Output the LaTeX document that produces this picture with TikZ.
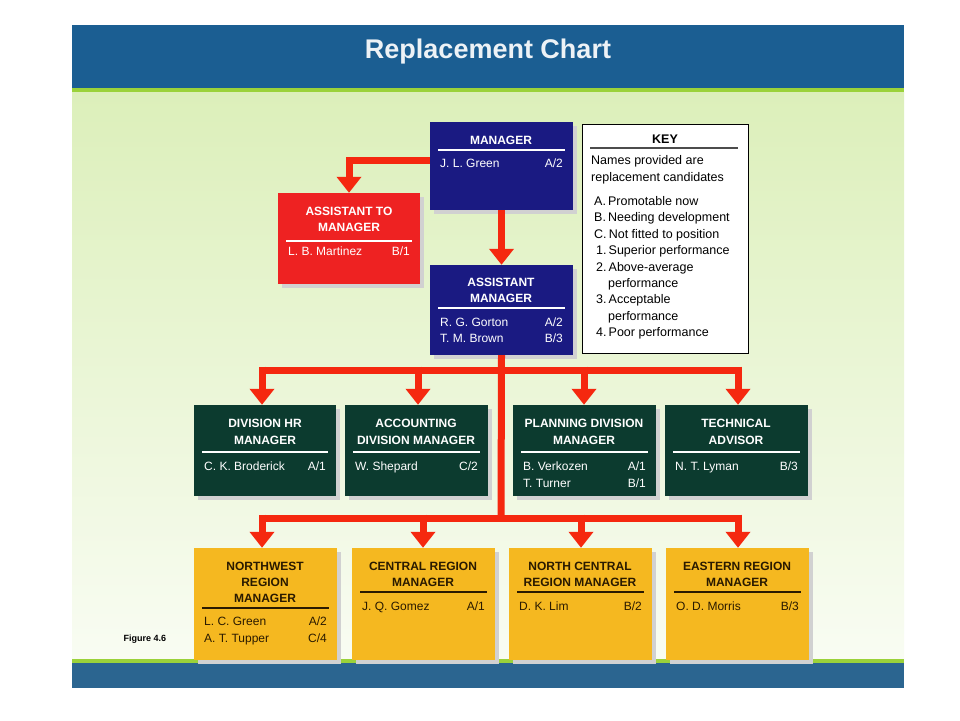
\documentclass[tikz,border=0pt]{standalone}
\usepackage{fontspec}
\setmainfont{Liberation Sans}
\usetikzlibrary{arrows.meta,fit}
\definecolor{hdr}{HTML}{1B5E92}
\definecolor{ftr}{HTML}{2B6590}
\definecolor{lgreen}{HTML}{9BD23A}
\definecolor{navy}{HTML}{1A1A82}
\definecolor{bred}{HTML}{EE2222}
\definecolor{dgreen}{HTML}{0C3B2F}
\definecolor{yel}{HTML}{F5B820}
\definecolor{ytxt}{HTML}{2A1A00}
\definecolor{arr}{HTML}{F5280F}
\tikzset{
 box/.style={draw=none,inner sep=0pt},
 shad/.style={fill=black!18},
 t/.style={font=\bfseries\fontsize{12}{13}\selectfont,inner sep=0pt},
 k/.style={font=\fontsize{12.5}{13}\selectfont,inner sep=0pt,anchor=base west},
 con/.style={draw=arr,line width=7pt,-{Triangle[width=24pt,length=16pt]}},
 bus/.style={draw=arr,line width=7pt},
}
% name, x1,y1,x2,y2, fill
\newcommand\ob[6]{%
 \fill[shad] (#2+4,#3+4) rectangle (#4+4,#5+4);
 \node[box,fill=#6,fit={(#2,#3)(#4,#5)}] (#1) {};}
\newcommand\ttl[4]{\node[t,text=#4,anchor=base] at (#1,#2) {#3};}
\newcommand\rw[6]{\node[t,text=#6,anchor=base west,font=\fontsize{12}{13}\selectfont] at ({#1+10},#3) {#4};
 \node[t,text=#6,anchor=base east,font=\fontsize{12}{13}\selectfont] at ({#2-10},#3) {#5};}
\newcommand\rl[4]{\draw[#4,line width=1.2pt] ({#1+8},#3) -- ({#2-8},#3);}
\begin{document}
\begin{tikzpicture}[x=1pt,y=-1pt]
\useasboundingbox (0,0) rectangle (960,720);
\fill[white] (0,0) rectangle (960,720);
\shade[top color=lgreen!35,bottom color=lgreen!6] (72,92) rectangle (904,663);
\fill[hdr] (72,25) rectangle (904,88);
\fill[lgreen] (72,88) rectangle (904,92);
\fill[lgreen] (72,659) rectangle (904,663);
\fill[ftr] (72,663) rectangle (904,688);
\node[font=\bfseries\fontsize{27}{30}\selectfont,text=white!92!hdr] (title) at (488,52) {Replacement Chart};
% boxes
\ob{m}{430}{122}{573}{210}{navy}
\ob{atm}{278}{193}{420}{284}{bred}
\ob{am}{430}{265}{573}{355}{navy}
\ob{d1}{194}{405}{336}{496}{dgreen}
\ob{d2}{345}{405}{488}{496}{dgreen}
\ob{d3}{513}{405}{656}{496}{dgreen}
\ob{d4}{665}{405}{808}{496}{dgreen}
\ob{r1}{194}{548}{337}{660}{yel}
\ob{r2}{352}{548}{495}{660}{yel}
\ob{r3}{509}{548}{652}{660}{yel}
\ob{r4}{666}{548}{809}{660}{yel}
% key
\node[draw=black,line width=1pt,fill=white,fit={(582,124)(748,353)},inner sep=0pt] (key) {};
\node[t,anchor=base,font=\bfseries\fontsize{12.5}{13}\selectfont] at (665,143) {KEY};
\draw[black!70,line width=1.2pt] (590,148) -- (738,148);
\node[k] at (591,164) {Names provided are};
\node[k] at (591,181) {replacement candidates};
\node[k] at (594,205) {A.\,Promotable now};
\node[k] at (594,221) {B.\,Needing development};
\node[k] at (594,238) {C.\,Not fitted to position};
\node[k] at (596,254) {1.\,Superior performance};
\node[k] at (596,271) {2.\,Above-average};
\node[k] at (608,287) {performance};
\node[k] at (596,303) {3.\,Acceptable};
\node[k] at (608,320) {performance};
\node[k] at (596,336) {4.\,Poor performance};
% texts
\ttl{501}{144}{MANAGER}{white}\rl{430}{573}{150}{white}
\rw{430}{573}{167}{J. L. Green}{A/2}{white}
\ttl{349}{215}{ASSISTANT TO}{white}\ttl{349}{231}{MANAGER}{white}\rl{278}{420}{241}{white}
\rw{278}{420}{255}{L. B. Martinez}{B/1}{white}
\ttl{501}{286}{ASSISTANT}{white}\ttl{501}{302}{MANAGER}{white}\rl{430}{573}{308}{white}
\rw{430}{573}{326}{R. G. Gorton}{A/2}{white}\rw{430}{573}{342}{T. M. Brown}{B/3}{white}
\ttl{265}{427}{DIVISION HR}{white}\ttl{265}{444}{MANAGER}{white}\rl{194}{336}{452}{white}
\rw{194}{336}{470}{C. K. Broderick}{A/1}{white}
\ttl{416}{427}{ACCOUNTING}{white}\ttl{416}{444}{DIVISION MANAGER}{white}\rl{345}{488}{452}{white}
\rw{345}{488}{470}{W. Shepard}{C/2}{white}
\ttl{584}{427}{PLANNING DIVISION}{white}\ttl{584}{444}{MANAGER}{white}\rl{513}{656}{452}{white}
\rw{513}{656}{470}{B. Verkozen}{A/1}{white}\rw{513}{656}{487}{T. Turner}{B/1}{white}
\ttl{736}{427}{TECHNICAL}{white}\ttl{736}{444}{ADVISOR}{white}\rl{665}{808}{452}{white}
\rw{665}{808}{470}{N. T. Lyman}{B/3}{white}
\ttl{265}{570}{NORTHWEST}{ytxt}\ttl{265}{586}{REGION}{ytxt}\ttl{265}{602}{MANAGER}{ytxt}\rl{194}{337}{608}{ytxt}
\rw{194}{337}{625}{L. C. Green}{A/2}{ytxt}\rw{194}{337}{642}{A. T. Tupper}{C/4}{ytxt}
\ttl{423}{570}{CENTRAL REGION}{ytxt}\ttl{423}{586}{MANAGER}{ytxt}\rl{352}{495}{592}{ytxt}
\rw{352}{495}{610}{J. Q. Gomez}{A/1}{ytxt}
\ttl{580}{570}{NORTH CENTRAL}{ytxt}\ttl{580}{586}{REGION MANAGER}{ytxt}\rl{509}{652}{592}{ytxt}
\rw{509}{652}{610}{D. K. Lim}{B/2}{ytxt}
\ttl{737}{570}{EASTERN REGION}{ytxt}\ttl{737}{586}{MANAGER}{ytxt}\rl{666}{809}{592}{ytxt}
\rw{666}{809}{610}{O. D. Morris}{B/3}{ytxt}
\node[t,anchor=base,font=\bfseries\fontsize{9}{10}\selectfont] (fig) at (145,641) {Figure 4.6};
% connectors
\coordinate (b1) at (501,370);
\coordinate (b2) at (501,518);
\draw[con] (m.west |- 0,160) -| (atm.north);
\draw[con] (m.south) -- (am.north);
\draw[bus] (am.south) -- (b2);
\draw[bus] (262,370) -- (738,370);
\draw[bus] (262,518) -- (738,518);
\draw[con] (262,366.5) -- (d1.north -| 262,0);
\draw[con] (418,366.5) -- (d2.north -| 418,0);
\draw[con] (584,366.5) -- (d3.north -| 584,0);
\draw[con] (738,366.5) -- (d4.north -| 738,0);
\draw[con] (262,514.5) -- (r1.north -| 262,0);
\draw[con] (423,514.5) -- (r2.north -| 423,0);
\draw[con] (581,514.5) -- (r3.north -| 581,0);
\draw[con] (738,514.5) -- (r4.north -| 738,0);
\end{tikzpicture}
\end{document}
